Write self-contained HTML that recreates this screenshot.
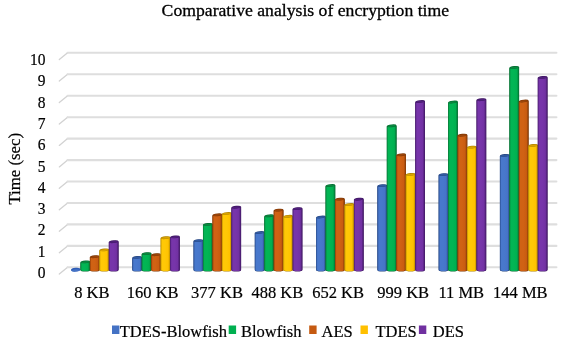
<!DOCTYPE html>
<html><head><meta charset="utf-8"><title>Comparative analysis of encryption time</title>
<style>
html,body{margin:0;padding:0;background:#fff;}
body{width:564px;height:346px;overflow:hidden;}
svg{display:block;}
text{font-family:"Liberation Serif","DejaVu Serif",serif;fill:#000;stroke:#000;stroke-width:0.2px;}
</style></head><body>
<svg width="564" height="346" viewBox="0 0 564 346">
<defs>
<linearGradient id="gb" x1="0" x2="1" y1="0" y2="0"><stop offset="0" stop-color="#2c4f91"/><stop offset="0.16" stop-color="#4878cc"/><stop offset="0.45" stop-color="#4878cc"/><stop offset="0.78" stop-color="#4674c8"/><stop offset="1" stop-color="#27467f"/></linearGradient>
<linearGradient id="gg" x1="0" x2="1" y1="0" y2="0"><stop offset="0" stop-color="#087a38"/><stop offset="0.16" stop-color="#02b554"/><stop offset="0.45" stop-color="#02b554"/><stop offset="0.78" stop-color="#00b050"/><stop offset="1" stop-color="#056a30"/></linearGradient>
<linearGradient id="go" x1="0" x2="1" y1="0" y2="0"><stop offset="0" stop-color="#8f3f08"/><stop offset="0.16" stop-color="#d06214"/><stop offset="0.45" stop-color="#d06214"/><stop offset="0.78" stop-color="#c95c11"/><stop offset="1" stop-color="#7d3605"/></linearGradient>
<linearGradient id="gy" x1="0" x2="1" y1="0" y2="0"><stop offset="0" stop-color="#c39300"/><stop offset="0.16" stop-color="#ffc806"/><stop offset="0.45" stop-color="#ffc806"/><stop offset="0.78" stop-color="#ffc200"/><stop offset="1" stop-color="#ad8100"/></linearGradient>
<linearGradient id="gp" x1="0" x2="1" y1="0" y2="0"><stop offset="0" stop-color="#4c1d73"/><stop offset="0.16" stop-color="#7735aa"/><stop offset="0.45" stop-color="#7735aa"/><stop offset="0.78" stop-color="#7231a3"/><stop offset="1" stop-color="#3f1762"/></linearGradient>
</defs>
<rect width="564" height="346" fill="#fff"/>
<g fill="none" stroke-linecap="round">
<line x1="59.3" y1="274.1" x2="67.6" y2="267.3" stroke="#d2d2d2" stroke-width="1.3"/>
<line x1="67.6" y1="267.3" x2="556.4" y2="267.3" stroke="#dedede" stroke-width="2.1"/>
<line x1="59.3" y1="252.7" x2="67.6" y2="245.9" stroke="#d2d2d2" stroke-width="1.3"/>
<line x1="67.6" y1="245.9" x2="556.4" y2="245.9" stroke="#dedede" stroke-width="2.1"/>
<line x1="59.3" y1="231.2" x2="67.6" y2="224.4" stroke="#d2d2d2" stroke-width="1.3"/>
<line x1="67.6" y1="224.4" x2="556.4" y2="224.4" stroke="#dedede" stroke-width="2.1"/>
<line x1="59.3" y1="209.8" x2="67.6" y2="203.0" stroke="#d2d2d2" stroke-width="1.3"/>
<line x1="67.6" y1="203.0" x2="556.4" y2="203.0" stroke="#dedede" stroke-width="2.1"/>
<line x1="59.3" y1="188.3" x2="67.6" y2="181.5" stroke="#d2d2d2" stroke-width="1.3"/>
<line x1="67.6" y1="181.5" x2="556.4" y2="181.5" stroke="#dedede" stroke-width="2.1"/>
<line x1="59.3" y1="166.9" x2="67.6" y2="160.1" stroke="#d2d2d2" stroke-width="1.3"/>
<line x1="67.6" y1="160.1" x2="556.4" y2="160.1" stroke="#dedede" stroke-width="2.1"/>
<line x1="59.3" y1="145.4" x2="67.6" y2="138.6" stroke="#d2d2d2" stroke-width="1.3"/>
<line x1="67.6" y1="138.6" x2="556.4" y2="138.6" stroke="#dedede" stroke-width="2.1"/>
<line x1="59.3" y1="124.0" x2="67.6" y2="117.2" stroke="#d2d2d2" stroke-width="1.3"/>
<line x1="67.6" y1="117.2" x2="556.4" y2="117.2" stroke="#dedede" stroke-width="2.1"/>
<line x1="59.3" y1="102.5" x2="67.6" y2="95.7" stroke="#d2d2d2" stroke-width="1.3"/>
<line x1="67.6" y1="95.7" x2="556.4" y2="95.7" stroke="#dedede" stroke-width="2.1"/>
<line x1="59.3" y1="81.1" x2="67.6" y2="74.3" stroke="#d2d2d2" stroke-width="1.3"/>
<line x1="67.6" y1="74.3" x2="556.4" y2="74.3" stroke="#dedede" stroke-width="2.1"/>
<line x1="59.3" y1="59.6" x2="67.6" y2="52.8" stroke="#d2d2d2" stroke-width="1.3"/>
<line x1="67.6" y1="52.8" x2="556.4" y2="52.8" stroke="#dedede" stroke-width="2.1"/>
</g>
<ellipse cx="75.80" cy="269.68" rx="4.85" ry="1.93" fill="#2f5db6" transform="rotate(-4 75.80 269.68)"/>
<ellipse cx="75.80" cy="270.38" rx="3.85" ry="1.13" fill="#4372c6" transform="rotate(-4 75.80 269.68)"/>
<path d="M80.42,262.30 L80.42,270.10 A4.85,1.50 0 0 0 90.12,270.10 L90.12,261.50 A4.85,1.35 -5 0 0 80.42,262.30 Z" fill="#056a30"/>
<path d="M80.42,262.30 L80.42,269.40 A4.85,1.50 0 0 0 90.12,269.40 L90.12,261.50 A4.85,1.35 -5 0 1 80.42,262.30 Z" fill="url(#gg)"/>
<ellipse cx="85.27" cy="262.05" rx="4.15" ry="0.90" fill="#0a8840" transform="rotate(-5 85.27 261.90)"/>
<path d="M89.89,257.10 L89.89,270.10 A4.85,1.50 0 0 0 99.59,270.10 L99.59,256.30 A4.85,1.35 -5 0 0 89.89,257.10 Z" fill="#7d3605"/>
<path d="M89.89,257.10 L89.89,269.40 A4.85,1.50 0 0 0 99.59,269.40 L99.59,256.30 A4.85,1.35 -5 0 1 89.89,257.10 Z" fill="url(#go)"/>
<ellipse cx="94.74" cy="256.85" rx="4.15" ry="0.90" fill="#9c4509" transform="rotate(-5 94.74 256.70)"/>
<path d="M99.36,250.30 L99.36,270.10 A4.85,1.50 0 0 0 109.06,270.10 L109.06,249.50 A4.85,1.35 -5 0 0 99.36,250.30 Z" fill="#ad8100"/>
<path d="M99.36,250.30 L99.36,269.40 A4.85,1.50 0 0 0 109.06,269.40 L109.06,249.50 A4.85,1.35 -5 0 1 99.36,250.30 Z" fill="url(#gy)"/>
<ellipse cx="104.21" cy="250.05" rx="4.15" ry="0.90" fill="#d9a300" transform="rotate(-5 104.21 249.90)"/>
<path d="M108.83,242.10 L108.83,270.10 A4.85,1.50 0 0 0 118.53,270.10 L118.53,241.30 A4.85,1.35 -5 0 0 108.83,242.10 Z" fill="#3f1762"/>
<path d="M108.83,242.10 L108.83,269.40 A4.85,1.50 0 0 0 118.53,269.40 L118.53,241.30 A4.85,1.35 -5 0 1 108.83,242.10 Z" fill="url(#gp)"/>
<ellipse cx="113.68" cy="241.85" rx="4.15" ry="0.90" fill="#501f7c" transform="rotate(-5 113.68 241.70)"/>
<path d="M132.23,257.80 L132.23,270.10 A4.85,1.50 0 0 0 141.93,270.10 L141.93,257.00 A4.85,1.35 -5 0 0 132.23,257.80 Z" fill="#27467f"/>
<path d="M132.23,257.80 L132.23,269.40 A4.85,1.50 0 0 0 141.93,269.40 L141.93,257.00 A4.85,1.35 -5 0 1 132.23,257.80 Z" fill="url(#gb)"/>
<ellipse cx="137.08" cy="257.55" rx="4.15" ry="0.90" fill="#315aa3" transform="rotate(-5 137.08 257.40)"/>
<path d="M141.70,254.00 L141.70,270.10 A4.85,1.50 0 0 0 151.40,270.10 L151.40,253.20 A4.85,1.35 -5 0 0 141.70,254.00 Z" fill="#056a30"/>
<path d="M141.70,254.00 L141.70,269.40 A4.85,1.50 0 0 0 151.40,269.40 L151.40,253.20 A4.85,1.35 -5 0 1 141.70,254.00 Z" fill="url(#gg)"/>
<ellipse cx="146.55" cy="253.75" rx="4.15" ry="0.90" fill="#0a8840" transform="rotate(-5 146.55 253.60)"/>
<path d="M151.17,255.10 L151.17,270.10 A4.85,1.50 0 0 0 160.87,270.10 L160.87,254.30 A4.85,1.35 -5 0 0 151.17,255.10 Z" fill="#7d3605"/>
<path d="M151.17,255.10 L151.17,269.40 A4.85,1.50 0 0 0 160.87,269.40 L160.87,254.30 A4.85,1.35 -5 0 1 151.17,255.10 Z" fill="url(#go)"/>
<ellipse cx="156.02" cy="254.85" rx="4.15" ry="0.90" fill="#9c4509" transform="rotate(-5 156.02 254.70)"/>
<path d="M160.64,238.10 L160.64,270.10 A4.85,1.50 0 0 0 170.34,270.10 L170.34,237.30 A4.85,1.35 -5 0 0 160.64,238.10 Z" fill="#ad8100"/>
<path d="M160.64,238.10 L160.64,269.40 A4.85,1.50 0 0 0 170.34,269.40 L170.34,237.30 A4.85,1.35 -5 0 1 160.64,238.10 Z" fill="url(#gy)"/>
<ellipse cx="165.49" cy="237.85" rx="4.15" ry="0.90" fill="#d9a300" transform="rotate(-5 165.49 237.70)"/>
<path d="M170.11,237.30 L170.11,270.10 A4.85,1.50 0 0 0 179.81,270.10 L179.81,236.50 A4.85,1.35 -5 0 0 170.11,237.30 Z" fill="#3f1762"/>
<path d="M170.11,237.30 L170.11,269.40 A4.85,1.50 0 0 0 179.81,269.40 L179.81,236.50 A4.85,1.35 -5 0 1 170.11,237.30 Z" fill="url(#gp)"/>
<ellipse cx="174.96" cy="237.05" rx="4.15" ry="0.90" fill="#501f7c" transform="rotate(-5 174.96 236.90)"/>
<path d="M193.51,241.00 L193.51,270.10 A4.85,1.50 0 0 0 203.21,270.10 L203.21,240.20 A4.85,1.35 -5 0 0 193.51,241.00 Z" fill="#27467f"/>
<path d="M193.51,241.00 L193.51,269.40 A4.85,1.50 0 0 0 203.21,269.40 L203.21,240.20 A4.85,1.35 -5 0 1 193.51,241.00 Z" fill="url(#gb)"/>
<ellipse cx="198.36" cy="240.75" rx="4.15" ry="0.90" fill="#315aa3" transform="rotate(-5 198.36 240.60)"/>
<path d="M202.98,224.80 L202.98,270.10 A4.85,1.50 0 0 0 212.68,270.10 L212.68,224.00 A4.85,1.35 -5 0 0 202.98,224.80 Z" fill="#056a30"/>
<path d="M202.98,224.80 L202.98,269.40 A4.85,1.50 0 0 0 212.68,269.40 L212.68,224.00 A4.85,1.35 -5 0 1 202.98,224.80 Z" fill="url(#gg)"/>
<ellipse cx="207.83" cy="224.55" rx="4.15" ry="0.90" fill="#0a8840" transform="rotate(-5 207.83 224.40)"/>
<path d="M212.45,215.20 L212.45,270.10 A4.85,1.50 0 0 0 222.15,270.10 L222.15,214.40 A4.85,1.35 -5 0 0 212.45,215.20 Z" fill="#7d3605"/>
<path d="M212.45,215.20 L212.45,269.40 A4.85,1.50 0 0 0 222.15,269.40 L222.15,214.40 A4.85,1.35 -5 0 1 212.45,215.20 Z" fill="url(#go)"/>
<ellipse cx="217.30" cy="214.95" rx="4.15" ry="0.90" fill="#9c4509" transform="rotate(-5 217.30 214.80)"/>
<path d="M221.92,213.90 L221.92,270.10 A4.85,1.50 0 0 0 231.62,270.10 L231.62,213.10 A4.85,1.35 -5 0 0 221.92,213.90 Z" fill="#ad8100"/>
<path d="M221.92,213.90 L221.92,269.40 A4.85,1.50 0 0 0 231.62,269.40 L231.62,213.10 A4.85,1.35 -5 0 1 221.92,213.90 Z" fill="url(#gy)"/>
<ellipse cx="226.77" cy="213.65" rx="4.15" ry="0.90" fill="#d9a300" transform="rotate(-5 226.77 213.50)"/>
<path d="M231.39,207.60 L231.39,270.10 A4.85,1.50 0 0 0 241.09,270.10 L241.09,206.80 A4.85,1.35 -5 0 0 231.39,207.60 Z" fill="#3f1762"/>
<path d="M231.39,207.60 L231.39,269.40 A4.85,1.50 0 0 0 241.09,269.40 L241.09,206.80 A4.85,1.35 -5 0 1 231.39,207.60 Z" fill="url(#gp)"/>
<ellipse cx="236.24" cy="207.35" rx="4.15" ry="0.90" fill="#501f7c" transform="rotate(-5 236.24 207.20)"/>
<path d="M254.79,232.90 L254.79,270.10 A4.85,1.50 0 0 0 264.49,270.10 L264.49,232.10 A4.85,1.35 -5 0 0 254.79,232.90 Z" fill="#27467f"/>
<path d="M254.79,232.90 L254.79,269.40 A4.85,1.50 0 0 0 264.49,269.40 L264.49,232.10 A4.85,1.35 -5 0 1 254.79,232.90 Z" fill="url(#gb)"/>
<ellipse cx="259.64" cy="232.65" rx="4.15" ry="0.90" fill="#315aa3" transform="rotate(-5 259.64 232.50)"/>
<path d="M264.26,216.20 L264.26,270.10 A4.85,1.50 0 0 0 273.96,270.10 L273.96,215.40 A4.85,1.35 -5 0 0 264.26,216.20 Z" fill="#056a30"/>
<path d="M264.26,216.20 L264.26,269.40 A4.85,1.50 0 0 0 273.96,269.40 L273.96,215.40 A4.85,1.35 -5 0 1 264.26,216.20 Z" fill="url(#gg)"/>
<ellipse cx="269.11" cy="215.95" rx="4.15" ry="0.90" fill="#0a8840" transform="rotate(-5 269.11 215.80)"/>
<path d="M273.73,210.50 L273.73,270.10 A4.85,1.50 0 0 0 283.43,270.10 L283.43,209.70 A4.85,1.35 -5 0 0 273.73,210.50 Z" fill="#7d3605"/>
<path d="M273.73,210.50 L273.73,269.40 A4.85,1.50 0 0 0 283.43,269.40 L283.43,209.70 A4.85,1.35 -5 0 1 273.73,210.50 Z" fill="url(#go)"/>
<ellipse cx="278.58" cy="210.25" rx="4.15" ry="0.90" fill="#9c4509" transform="rotate(-5 278.58 210.10)"/>
<path d="M283.20,216.70 L283.20,270.10 A4.85,1.50 0 0 0 292.90,270.10 L292.90,215.90 A4.85,1.35 -5 0 0 283.20,216.70 Z" fill="#ad8100"/>
<path d="M283.20,216.70 L283.20,269.40 A4.85,1.50 0 0 0 292.90,269.40 L292.90,215.90 A4.85,1.35 -5 0 1 283.20,216.70 Z" fill="url(#gy)"/>
<ellipse cx="288.05" cy="216.45" rx="4.15" ry="0.90" fill="#d9a300" transform="rotate(-5 288.05 216.30)"/>
<path d="M292.67,209.00 L292.67,270.10 A4.85,1.50 0 0 0 302.37,270.10 L302.37,208.20 A4.85,1.35 -5 0 0 292.67,209.00 Z" fill="#3f1762"/>
<path d="M292.67,209.00 L292.67,269.40 A4.85,1.50 0 0 0 302.37,269.40 L302.37,208.20 A4.85,1.35 -5 0 1 292.67,209.00 Z" fill="url(#gp)"/>
<ellipse cx="297.52" cy="208.75" rx="4.15" ry="0.90" fill="#501f7c" transform="rotate(-5 297.52 208.60)"/>
<path d="M316.07,217.40 L316.07,270.10 A4.85,1.50 0 0 0 325.77,270.10 L325.77,216.60 A4.85,1.35 -5 0 0 316.07,217.40 Z" fill="#27467f"/>
<path d="M316.07,217.40 L316.07,269.40 A4.85,1.50 0 0 0 325.77,269.40 L325.77,216.60 A4.85,1.35 -5 0 1 316.07,217.40 Z" fill="url(#gb)"/>
<ellipse cx="320.92" cy="217.15" rx="4.15" ry="0.90" fill="#315aa3" transform="rotate(-5 320.92 217.00)"/>
<path d="M325.54,185.90 L325.54,270.10 A4.85,1.50 0 0 0 335.24,270.10 L335.24,185.10 A4.85,1.35 -5 0 0 325.54,185.90 Z" fill="#056a30"/>
<path d="M325.54,185.90 L325.54,269.40 A4.85,1.50 0 0 0 335.24,269.40 L335.24,185.10 A4.85,1.35 -5 0 1 325.54,185.90 Z" fill="url(#gg)"/>
<ellipse cx="330.39" cy="185.65" rx="4.15" ry="0.90" fill="#0a8840" transform="rotate(-5 330.39 185.50)"/>
<path d="M335.01,199.50 L335.01,270.10 A4.85,1.50 0 0 0 344.71,270.10 L344.71,198.70 A4.85,1.35 -5 0 0 335.01,199.50 Z" fill="#7d3605"/>
<path d="M335.01,199.50 L335.01,269.40 A4.85,1.50 0 0 0 344.71,269.40 L344.71,198.70 A4.85,1.35 -5 0 1 335.01,199.50 Z" fill="url(#go)"/>
<ellipse cx="339.86" cy="199.25" rx="4.15" ry="0.90" fill="#9c4509" transform="rotate(-5 339.86 199.10)"/>
<path d="M344.48,204.90 L344.48,270.10 A4.85,1.50 0 0 0 354.18,270.10 L354.18,204.10 A4.85,1.35 -5 0 0 344.48,204.90 Z" fill="#ad8100"/>
<path d="M344.48,204.90 L344.48,269.40 A4.85,1.50 0 0 0 354.18,269.40 L354.18,204.10 A4.85,1.35 -5 0 1 344.48,204.90 Z" fill="url(#gy)"/>
<ellipse cx="349.33" cy="204.65" rx="4.15" ry="0.90" fill="#d9a300" transform="rotate(-5 349.33 204.50)"/>
<path d="M353.95,199.60 L353.95,270.10 A4.85,1.50 0 0 0 363.65,270.10 L363.65,198.80 A4.85,1.35 -5 0 0 353.95,199.60 Z" fill="#3f1762"/>
<path d="M353.95,199.60 L353.95,269.40 A4.85,1.50 0 0 0 363.65,269.40 L363.65,198.80 A4.85,1.35 -5 0 1 353.95,199.60 Z" fill="url(#gp)"/>
<ellipse cx="358.80" cy="199.35" rx="4.15" ry="0.90" fill="#501f7c" transform="rotate(-5 358.80 199.20)"/>
<path d="M377.35,186.00 L377.35,270.10 A4.85,1.50 0 0 0 387.05,270.10 L387.05,185.20 A4.85,1.35 -5 0 0 377.35,186.00 Z" fill="#27467f"/>
<path d="M377.35,186.00 L377.35,269.40 A4.85,1.50 0 0 0 387.05,269.40 L387.05,185.20 A4.85,1.35 -5 0 1 377.35,186.00 Z" fill="url(#gb)"/>
<ellipse cx="382.20" cy="185.75" rx="4.15" ry="0.90" fill="#315aa3" transform="rotate(-5 382.20 185.60)"/>
<path d="M386.82,126.20 L386.82,270.10 A4.85,1.50 0 0 0 396.52,270.10 L396.52,125.40 A4.85,1.35 -5 0 0 386.82,126.20 Z" fill="#056a30"/>
<path d="M386.82,126.20 L386.82,269.40 A4.85,1.50 0 0 0 396.52,269.40 L396.52,125.40 A4.85,1.35 -5 0 1 386.82,126.20 Z" fill="url(#gg)"/>
<ellipse cx="391.67" cy="125.95" rx="4.15" ry="0.90" fill="#0a8840" transform="rotate(-5 391.67 125.80)"/>
<path d="M396.29,155.20 L396.29,270.10 A4.85,1.50 0 0 0 405.99,270.10 L405.99,154.40 A4.85,1.35 -5 0 0 396.29,155.20 Z" fill="#7d3605"/>
<path d="M396.29,155.20 L396.29,269.40 A4.85,1.50 0 0 0 405.99,269.40 L405.99,154.40 A4.85,1.35 -5 0 1 396.29,155.20 Z" fill="url(#go)"/>
<ellipse cx="401.14" cy="154.95" rx="4.15" ry="0.90" fill="#9c4509" transform="rotate(-5 401.14 154.80)"/>
<path d="M405.76,174.80 L405.76,270.10 A4.85,1.50 0 0 0 415.46,270.10 L415.46,174.00 A4.85,1.35 -5 0 0 405.76,174.80 Z" fill="#ad8100"/>
<path d="M405.76,174.80 L405.76,269.40 A4.85,1.50 0 0 0 415.46,269.40 L415.46,174.00 A4.85,1.35 -5 0 1 405.76,174.80 Z" fill="url(#gy)"/>
<ellipse cx="410.61" cy="174.55" rx="4.15" ry="0.90" fill="#d9a300" transform="rotate(-5 410.61 174.40)"/>
<path d="M415.23,101.90 L415.23,270.10 A4.85,1.50 0 0 0 424.93,270.10 L424.93,101.10 A4.85,1.35 -5 0 0 415.23,101.90 Z" fill="#3f1762"/>
<path d="M415.23,101.90 L415.23,269.40 A4.85,1.50 0 0 0 424.93,269.40 L424.93,101.10 A4.85,1.35 -5 0 1 415.23,101.90 Z" fill="url(#gp)"/>
<ellipse cx="420.08" cy="101.65" rx="4.15" ry="0.90" fill="#501f7c" transform="rotate(-5 420.08 101.50)"/>
<path d="M438.63,175.00 L438.63,270.10 A4.85,1.50 0 0 0 448.33,270.10 L448.33,174.20 A4.85,1.35 -5 0 0 438.63,175.00 Z" fill="#27467f"/>
<path d="M438.63,175.00 L438.63,269.40 A4.85,1.50 0 0 0 448.33,269.40 L448.33,174.20 A4.85,1.35 -5 0 1 438.63,175.00 Z" fill="url(#gb)"/>
<ellipse cx="443.48" cy="174.75" rx="4.15" ry="0.90" fill="#315aa3" transform="rotate(-5 443.48 174.60)"/>
<path d="M448.10,102.40 L448.10,270.10 A4.85,1.50 0 0 0 457.80,270.10 L457.80,101.60 A4.85,1.35 -5 0 0 448.10,102.40 Z" fill="#056a30"/>
<path d="M448.10,102.40 L448.10,269.40 A4.85,1.50 0 0 0 457.80,269.40 L457.80,101.60 A4.85,1.35 -5 0 1 448.10,102.40 Z" fill="url(#gg)"/>
<ellipse cx="452.95" cy="102.15" rx="4.15" ry="0.90" fill="#0a8840" transform="rotate(-5 452.95 102.00)"/>
<path d="M457.57,135.60 L457.57,270.10 A4.85,1.50 0 0 0 467.27,270.10 L467.27,134.80 A4.85,1.35 -5 0 0 457.57,135.60 Z" fill="#7d3605"/>
<path d="M457.57,135.60 L457.57,269.40 A4.85,1.50 0 0 0 467.27,269.40 L467.27,134.80 A4.85,1.35 -5 0 1 457.57,135.60 Z" fill="url(#go)"/>
<ellipse cx="462.42" cy="135.35" rx="4.15" ry="0.90" fill="#9c4509" transform="rotate(-5 462.42 135.20)"/>
<path d="M467.04,147.50 L467.04,270.10 A4.85,1.50 0 0 0 476.74,270.10 L476.74,146.70 A4.85,1.35 -5 0 0 467.04,147.50 Z" fill="#ad8100"/>
<path d="M467.04,147.50 L467.04,269.40 A4.85,1.50 0 0 0 476.74,269.40 L476.74,146.70 A4.85,1.35 -5 0 1 467.04,147.50 Z" fill="url(#gy)"/>
<ellipse cx="471.89" cy="147.25" rx="4.15" ry="0.90" fill="#d9a300" transform="rotate(-5 471.89 147.10)"/>
<path d="M476.51,100.10 L476.51,270.10 A4.85,1.50 0 0 0 486.21,270.10 L486.21,99.30 A4.85,1.35 -5 0 0 476.51,100.10 Z" fill="#3f1762"/>
<path d="M476.51,100.10 L476.51,269.40 A4.85,1.50 0 0 0 486.21,269.40 L486.21,99.30 A4.85,1.35 -5 0 1 476.51,100.10 Z" fill="url(#gp)"/>
<ellipse cx="481.36" cy="99.85" rx="4.15" ry="0.90" fill="#501f7c" transform="rotate(-5 481.36 99.70)"/>
<path d="M499.91,155.80 L499.91,270.10 A4.85,1.50 0 0 0 509.61,270.10 L509.61,155.00 A4.85,1.35 -5 0 0 499.91,155.80 Z" fill="#27467f"/>
<path d="M499.91,155.80 L499.91,269.40 A4.85,1.50 0 0 0 509.61,269.40 L509.61,155.00 A4.85,1.35 -5 0 1 499.91,155.80 Z" fill="url(#gb)"/>
<ellipse cx="504.76" cy="155.55" rx="4.15" ry="0.90" fill="#315aa3" transform="rotate(-5 504.76 155.40)"/>
<path d="M509.38,67.80 L509.38,270.10 A4.85,1.50 0 0 0 519.08,270.10 L519.08,67.00 A4.85,1.35 -5 0 0 509.38,67.80 Z" fill="#056a30"/>
<path d="M509.38,67.80 L509.38,269.40 A4.85,1.50 0 0 0 519.08,269.40 L519.08,67.00 A4.85,1.35 -5 0 1 509.38,67.80 Z" fill="url(#gg)"/>
<ellipse cx="514.23" cy="67.55" rx="4.15" ry="0.90" fill="#0a8840" transform="rotate(-5 514.23 67.40)"/>
<path d="M518.85,101.40 L518.85,270.10 A4.85,1.50 0 0 0 528.55,270.10 L528.55,100.60 A4.85,1.35 -5 0 0 518.85,101.40 Z" fill="#7d3605"/>
<path d="M518.85,101.40 L518.85,269.40 A4.85,1.50 0 0 0 528.55,269.40 L528.55,100.60 A4.85,1.35 -5 0 1 518.85,101.40 Z" fill="url(#go)"/>
<ellipse cx="523.70" cy="101.15" rx="4.15" ry="0.90" fill="#9c4509" transform="rotate(-5 523.70 101.00)"/>
<path d="M528.32,145.80 L528.32,270.10 A4.85,1.50 0 0 0 538.02,270.10 L538.02,145.00 A4.85,1.35 -5 0 0 528.32,145.80 Z" fill="#ad8100"/>
<path d="M528.32,145.80 L528.32,269.40 A4.85,1.50 0 0 0 538.02,269.40 L538.02,145.00 A4.85,1.35 -5 0 1 528.32,145.80 Z" fill="url(#gy)"/>
<ellipse cx="533.17" cy="145.55" rx="4.15" ry="0.90" fill="#d9a300" transform="rotate(-5 533.17 145.40)"/>
<path d="M537.79,77.80 L537.79,270.10 A4.85,1.50 0 0 0 547.49,270.10 L547.49,77.00 A4.85,1.35 -5 0 0 537.79,77.80 Z" fill="#3f1762"/>
<path d="M537.79,77.80 L537.79,269.40 A4.85,1.50 0 0 0 547.49,269.40 L547.49,77.00 A4.85,1.35 -5 0 1 537.79,77.80 Z" fill="url(#gp)"/>
<ellipse cx="542.64" cy="77.55" rx="4.15" ry="0.90" fill="#501f7c" transform="rotate(-5 542.64 77.40)"/>
<text x="161.6" y="16.3" font-size="17.6" style="stroke-width:0.3px" textLength="287.5" lengthAdjust="spacingAndGlyphs">Comparative analysis of encryption time</text>
<text transform="translate(45.5,277.90) scale(0.94,1)" font-size="16.5" text-anchor="end">0</text>
<text transform="translate(45.5,256.63) scale(0.94,1)" font-size="16.5" text-anchor="end">1</text>
<text transform="translate(45.5,235.36) scale(0.94,1)" font-size="16.5" text-anchor="end">2</text>
<text transform="translate(45.5,214.09) scale(0.94,1)" font-size="16.5" text-anchor="end">3</text>
<text transform="translate(45.5,192.82) scale(0.94,1)" font-size="16.5" text-anchor="end">4</text>
<text transform="translate(45.5,171.55) scale(0.94,1)" font-size="16.5" text-anchor="end">5</text>
<text transform="translate(45.5,150.28) scale(0.94,1)" font-size="16.5" text-anchor="end">6</text>
<text transform="translate(45.5,129.01) scale(0.94,1)" font-size="16.5" text-anchor="end">7</text>
<text transform="translate(45.5,107.74) scale(0.94,1)" font-size="16.5" text-anchor="end">8</text>
<text transform="translate(45.5,86.47) scale(0.94,1)" font-size="16.5" text-anchor="end">9</text>
<text transform="translate(45.5,65.20) scale(0.94,1)" font-size="16.5" text-anchor="end">10</text>
<text transform="translate(20.0,204.6) rotate(-90)" font-size="16.8">Time (sec)</text>
<text x="74.2" y="297.8" font-size="16.5">8 KB</text>
<text x="126.8" y="297.8" font-size="16.5">160 KB</text>
<text x="191.1" y="297.8" font-size="16.5">377 KB</text>
<text x="251.4" y="297.8" font-size="16.5">488 KB</text>
<text x="312.2" y="297.8" font-size="16.5">652 KB</text>
<text x="377.3" y="297.8" font-size="16.5">999 KB</text>
<text x="438.4" y="297.8" font-size="16.5">11 MB</text>
<text x="493.0" y="297.8" font-size="16.5">144 MB</text>
<rect x="112.0" y="325.5" width="7.4" height="8.5" fill="#4472c4"/>
<text x="119.7" y="337.1" font-size="16.5">TDES-Blowfish</text>
<rect x="228.7" y="325.5" width="7.4" height="8.5" fill="#00b050"/>
<text x="241.0" y="337.1" font-size="16.5">Blowfish</text>
<rect x="309.2" y="325.5" width="7.4" height="8.5" fill="#c55a11"/>
<text x="321.6" y="337.1" font-size="16.5">AES</text>
<rect x="360.5" y="325.5" width="7.4" height="8.5" fill="#ffc000"/>
<text x="375.5" y="337.1" font-size="16.5">TDES</text>
<rect x="418.9" y="325.5" width="7.4" height="8.5" fill="#7030a0"/>
<text x="432.8" y="337.1" font-size="16.5">DES</text>
</svg></body></html>
